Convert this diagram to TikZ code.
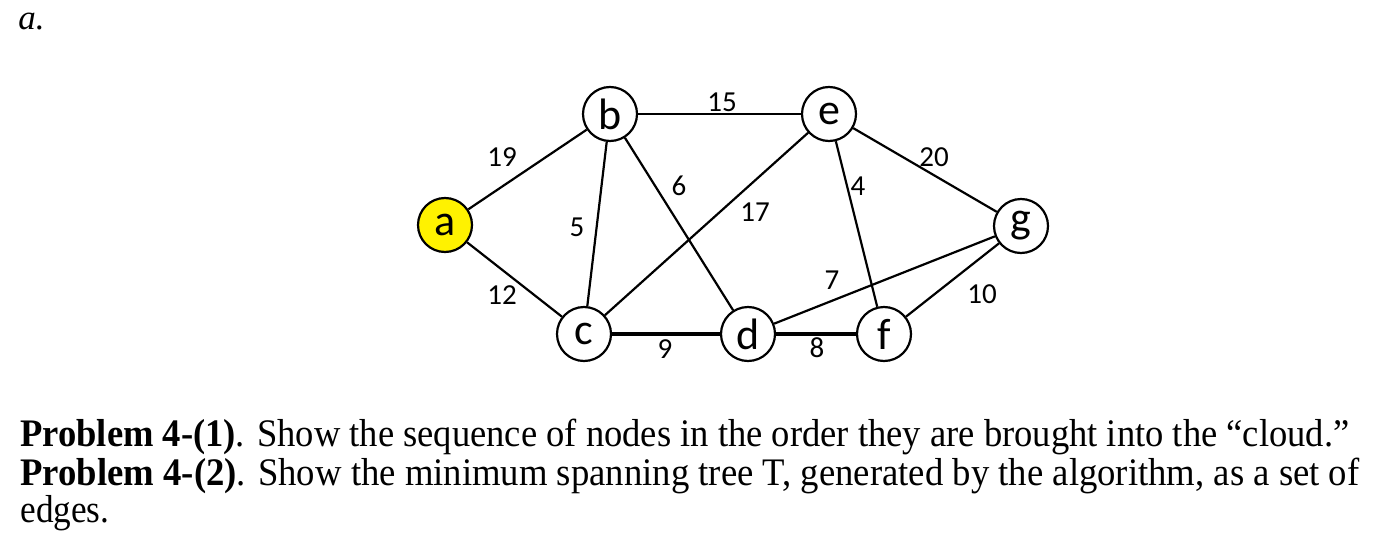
\documentclass[tikz,border=0pt]{standalone}
\usepackage{fontspec}
\setmainfont{Liberation Serif}
\newfontfamily\calibri{Carlito}
\usepackage{graphicx}
\begin{document}
\begin{tikzpicture}[x=0.5pt,y=-0.5pt,
  vtx/.style={circle,draw=black,line width=1.1pt,minimum size=27pt,inner sep=0pt,fill=white,font=\calibri\fontsize{22}{26}\selectfont},
  edge/.style={draw=black,line width=1.1pt},
  tree/.style={draw=black,line width=2.4pt},
  wt/.style={font=\calibri\fontsize{14.5}{16}\selectfont,inner sep=0pt},
  txt/.style={anchor=base west,inner sep=0pt,font=\fontsize{19.5}{23}\selectfont}]
\useasboundingbox (0,0) rectangle (1390,540);
\node[txt,font=\fontsize{17.5}{20}\selectfont\itshape] (lbl) at (18,30) {a.};
\node[vtx,fill=yellow] (a) at (445,225) {a};
\node[vtx] (b) at (610,114) {b};
\node[vtx] (e) at (829,114) {e};
\node[vtx] (g) at (1021,226) {g};
\node[vtx] (c) at (584,334) {c};
\node[vtx] (d) at (748,334) {d};
\node[vtx] (f) at (884,334) {f};
\draw[edge] (a) -- (b);
\draw[edge] (a) -- (c);
\draw[edge] (b) -- (e);
\draw[edge] (b) -- (c);
\draw[edge] (b) -- (d);
\draw[edge] (e) -- (c);
\draw[edge] (e) -- (f);
\draw[edge] (e) -- (g);
\draw[edge] (g) -- (d);
\draw[edge] (g) -- (f);
\draw[tree] (c) -- (d);
\draw[tree] (d) -- (f);
\node[wt] (w19) at (502,157) {19};
\node[wt] (w12) at (502,295) {12};
\node[wt] (w5) at (577,227) {5};
\node[wt] (w6) at (679,186) {6};
\node[wt] (w9) at (665,349) {9};
\node[wt] (w15) at (722,102) {15};
\node[wt] (w20) at (934,157) {20};
\node[wt] (w4) at (858,186) {4};
\node[wt] (w17) at (755,212) {17};
\node[wt] (w7) at (832,280) {7};
\node[wt] (w10) at (982,294) {10};
\node[wt] (w8) at (817,348) {8};
\node[txt] (p1) at (20,446) {\resizebox{664.5pt}{\height}{\textbf{Problem 4-(1)}. Show the sequence of nodes in the order they are brought into the “cloud.”}};
\node[txt] (p2) at (20,485) {\resizebox{669.5pt}{\height}{\textbf{Problem 4-(2)}. Show the minimum spanning tree T, generated by the algorithm, as a set of}};
\node[txt] (p3) at (20,522) {\resizebox{44.5pt}{\height}{edges.}};
\end{tikzpicture}
\end{document}
